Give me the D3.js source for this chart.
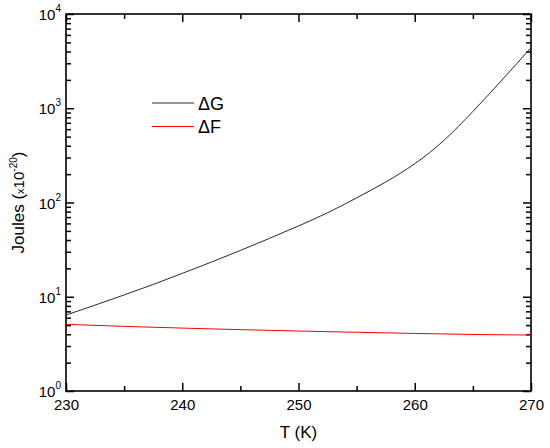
<!DOCTYPE html>
<html>
<head>
<meta charset="utf-8">
<script src="https://cdn.jsdelivr.net/npm/d3@7"></script>
<style>
  body { margin: 0; background: #fff; }
  text { font-family: Arial, "Liberation Sans", sans-serif; }
</style>
</head>
<body>
<div id="chart"></div>
<script>
// data
var temps = [230, 232.5, 235, 237.5, 240, 242.5, 245, 247.5, 250, 252.5, 255, 257.5, 260, 262.5, 265, 267.5, 270];
var deltaG = [6.4, 8.15, 10.45, 13.5, 17.7, 23.3, 31, 41.6, 56.4, 77.8, 112, 165, 258, 455, 925, 1990, 4400];
var deltaF = [5.1, 4.97, 4.85, 4.75, 4.65, 4.56, 4.48, 4.4, 4.33, 4.26, 4.2, 4.14, 4.08, 4.03, 3.98, 3.95, 3.92];
var xTicks = [230, 240, 250, 260, 270];
var yExponents = [0, 1, 2, 3, 4];
var seriesNames = ["\u0394G", "\u0394F"];

// Width and height
var w = 550;
var h = 448;
var plotL = 66, plotR = 531, plotT = 14, plotB = 391;

var svg = d3.select("#chart")
    .append("svg")
    .attr("width", w)
    .attr("height", h);

var x = d3.scaleLinear().domain([230, 270]).range([plotL, plotR]);
var y = d3.scaleLog().domain([1, 10000]).range([plotB, plotT]);

// minor ticks
var xMinor = [235, 245, 255, 265];
var yMinor = [];
yExponents.slice(0, 4).forEach(function(e) {
  for (var m = 2; m <= 9; m++) yMinor.push(m * Math.pow(10, e));
});

function tickAxis(axis, tx, ty) {
  var g = svg.append("g").attr("transform", "translate(" + tx + "," + ty + ")").call(axis);
  g.select(".domain").remove();
  g.selectAll("line").attr("stroke", "#000").attr("stroke-width", 1.5);
  return g;
}

// bottom
var gx = tickAxis(d3.axisBottom(x).tickValues(xTicks).tickSize(-8).tickPadding(8).tickFormat(d3.format("d")), 0, plotB);
gx.selectAll("text").attr("font-size", "15px").attr("fill", "#000");
tickAxis(d3.axisBottom(x).tickValues(xMinor).tickSize(-5).tickFormat(""), 0, plotB);
// top
tickAxis(d3.axisTop(x).tickValues(xTicks).tickSize(-8).tickFormat(""), 0, plotT);
tickAxis(d3.axisTop(x).tickValues(xMinor).tickSize(-5).tickFormat(""), 0, plotT);
// left
var majors = yExponents.map(function(e) { return Math.pow(10, e); });
tickAxis(d3.axisLeft(y).tickValues(majors).tickSize(-8).tickFormat(""), plotL, 0);
tickAxis(d3.axisLeft(y).tickValues(yMinor).tickSize(-5).tickFormat(""), plotL, 0);
// right
tickAxis(d3.axisRight(y).tickValues(majors).tickSize(-8).tickFormat(""), plotR, 0);
tickAxis(d3.axisRight(y).tickValues(yMinor).tickSize(-5).tickFormat(""), plotR, 0);

// y labels 10^n
var yl = svg.selectAll(".ylab")
  .data(yExponents)
  .enter()
  .append("text")
  .attr("class", "ylab")
  .attr("text-anchor", "end")
  .attr("x", plotL - 5)
  .attr("y", function(d) { return y(Math.pow(10, d)) + 6; })
  .attr("font-size", "15px");
yl.append("tspan").text("10");
yl.append("tspan").attr("dy", -8).attr("font-size", "10px").text(function(d) { return d; });

// frame
svg.append("rect")
  .attr("x", plotL).attr("y", plotT)
  .attr("width", plotR - plotL).attr("height", plotB - plotT)
  .attr("fill", "none").attr("stroke", "#000").attr("stroke-width", 1.6);

// lines
var line = d3.line()
  .x(function(d) { return x(d[0]); })
  .y(function(d) { return y(d[1]); })
  .curve(d3.curveNatural);

svg.append("path")
  .datum(d3.zip(temps, deltaG))
  .attr("d", line)
  .attr("fill", "none")
  .attr("stroke", "#2a2a2a")
  .attr("stroke-width", 1);

svg.append("path")
  .datum(d3.zip(temps, deltaF))
  .attr("d", line)
  .attr("fill", "none")
  .attr("stroke", "#ff0000")
  .attr("stroke-width", 1);

// legend
var legendColors = ["#2a2a2a", "#ff0000"];
var lg = svg.selectAll(".leg")
  .data(seriesNames)
  .enter()
  .append("g")
  .attr("transform", function(d, i) { return "translate(152," + (103 + i * 23.5) + ")"; });
lg.append("line")
  .attr("x1", 0).attr("x2", 42)
  .attr("stroke", function(d, i) { return legendColors[i]; })
  .attr("stroke-width", 1);
lg.append("text")
  .attr("x", 46).attr("y", 6.5)
  .attr("font-size", "18px")
  .text(function(d) { return d; });

// axis titles
svg.append("text")
  .attr("x", (plotL + plotR) / 2)
  .attr("y", 438)
  .attr("text-anchor", "middle")
  .attr("font-size", "17px")
  .text("T (K)");

var yt = svg.append("text")
  .attr("transform", "translate(24," + ((plotT + plotB) / 2) + ") rotate(-90)")
  .attr("text-anchor", "middle")
  .attr("font-size", "17px");
yt.append("tspan").text("Joules (");
yt.append("tspan").attr("font-size", "11px").text("x");
yt.append("tspan").attr("font-size", "15px").text("10");
yt.append("tspan").attr("font-size", "10px").attr("dy", -7).text("-20");
yt.append("tspan").attr("dy", 7).text(")");
</script>
</body>
</html>
